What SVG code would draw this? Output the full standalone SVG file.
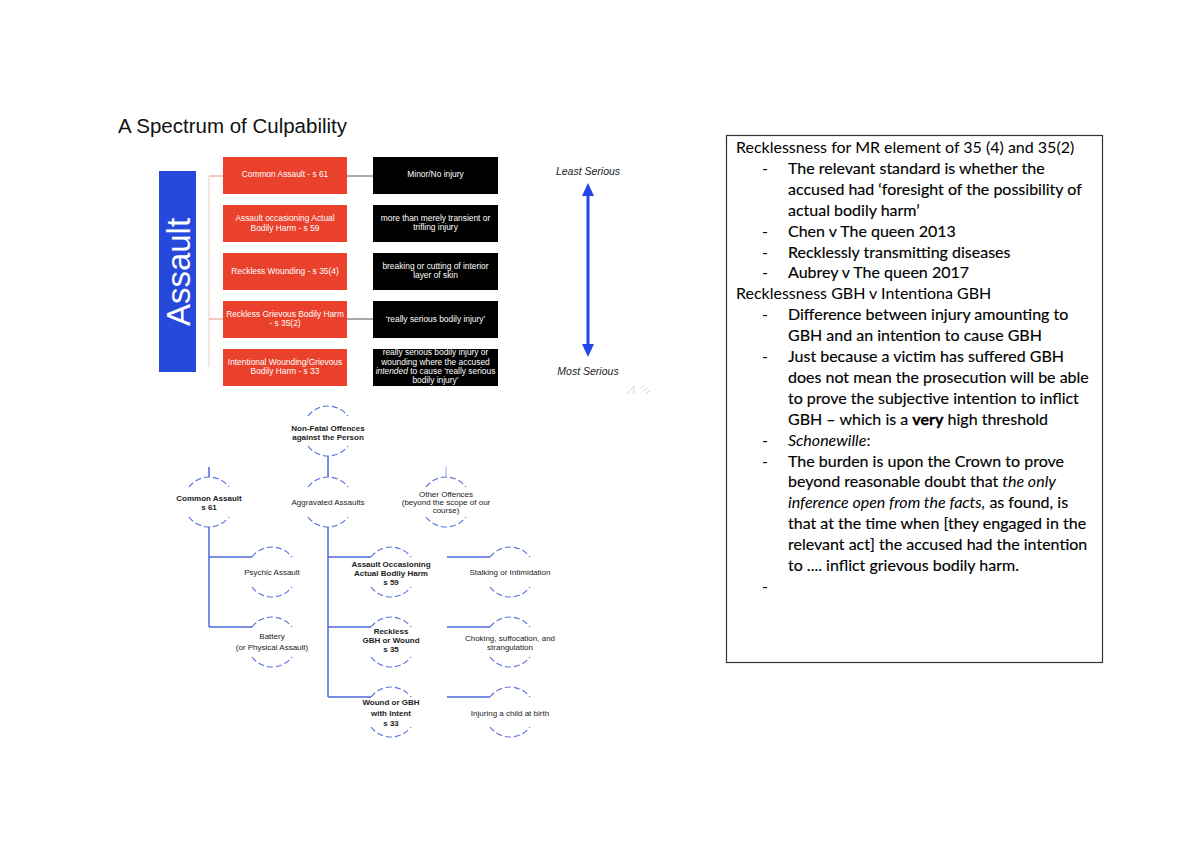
<svg xmlns="http://www.w3.org/2000/svg" width="1200" height="848" viewBox="0 0 1200 848">
<style>
.sans{font-family:"Liberation Sans",Arial,sans-serif}
.red{fill:#e9412b}
.blk{fill:#000}
.wt{fill:#fff;font-family:"Liberation Sans",Arial,sans-serif;font-size:8.4px;text-anchor:middle}
.tl{stroke:#4f68d9;stroke-width:1.5;fill:none}
.arc{stroke:#5a70e0;stroke-width:1.2;fill:none;stroke-dasharray:6 3}
.tt{font-family:"Liberation Sans",Arial,sans-serif;font-size:8px;text-anchor:middle;fill:#222}
.b{font-weight:bold}
.note{font-family:Lato,"Liberation Sans",sans-serif;font-size:16px;fill:#000}
.bl{stroke:#000;stroke-width:0.15}
.it{font-style:italic}
.nb{stroke:none}
.vb{font-weight:bold;stroke:#000;stroke-width:0.3}
</style>
<rect width="1200" height="848" fill="#fff"/>

<text x="118" y="133" class="sans" font-size="20.5" fill="#111">A Spectrum of Culpability</text>

<g id="assault-label">
<rect x="159" y="171" width="37" height="201" fill="#2649db"/>
<text transform="translate(190,272) rotate(-90)" class="sans" font-size="33" fill="#fff" text-anchor="middle">Assault</text>
</g>

<g id="connectors">
<line x1="209" y1="176" x2="209" y2="367" stroke="#f8d2cc" stroke-width="1.2"/>
<line x1="209" y1="176" x2="223" y2="176" stroke="#f2a296" stroke-width="1.2"/>
<line x1="209" y1="319" x2="223" y2="319" stroke="#f2a296" stroke-width="1.2"/>
<line x1="347" y1="176" x2="373" y2="176" stroke="#555" stroke-width="1"/>
<line x1="347" y1="319" x2="373" y2="319" stroke="#555" stroke-width="1"/>
<path class="tl" d="M209 467V477M328 456V477M209 527V627M209 557H252M209 627H252M328 527V697M328 557H371M328 627H371M328 697H371M447 557H490M447 627H490M447 697H490"/>
<line x1="446" y1="467" x2="446" y2="477" stroke="#b9c3ef" stroke-width="1.5"/>
</g>

<g id="spec-row1">
<rect class="red" x="223" y="157" width="124" height="37"/>
<text class="wt" x="285" y="177">Common Assault - s 61</text>
<rect class="blk" x="373" y="157" width="125" height="37"/>
<text class="wt" x="435.5" y="177">Minor/No injury</text>
</g>
<g id="spec-row2">
<rect class="red" x="223" y="205" width="124" height="37"/>
<text class="wt" x="285" y="221">Assault occasioning Actual</text>
<text class="wt" x="285" y="231">Bodily Harm - s 59</text>
<rect class="blk" x="373" y="205" width="125" height="37"/>
<text class="wt" x="435.5" y="221">more than merely transient or</text>
<text class="wt" x="435.5" y="230">trifling injury</text>
</g>
<g id="spec-row3">
<rect class="red" x="223" y="253" width="124" height="37"/>
<text class="wt" x="285" y="274">Reckless Wounding - s 35(4)</text>
<rect class="blk" x="373" y="253" width="125" height="37"/>
<text class="wt" x="435.5" y="269">breaking or cutting of interior</text>
<text class="wt" x="435.5" y="278">layer of skin</text>
</g>
<g id="spec-row4">
<rect class="red" x="223" y="301" width="124" height="37"/>
<text class="wt" x="285" y="317">Reckless Grievous Bodily Harm</text>
<text class="wt" x="285" y="326">- s 35(2)</text>
<rect class="blk" x="373" y="301" width="125" height="37"/>
<text class="wt" x="435.5" y="322">‘really serious bodily injury’</text>
</g>
<g id="spec-row5">
<rect class="red" x="223" y="349" width="124" height="37"/>
<text class="wt" x="285" y="365">Intentional Wounding/Grievous</text>
<text class="wt" x="285" y="374">Bodily Harm - s 33</text>
<rect class="blk" x="373" y="349" width="125" height="37"/>
<text class="wt" x="435.5" y="355">really serious bodily injury or</text>
<text class="wt" x="435.5" y="364.5">wounding where the accused</text>
<text class="wt" x="435.5" y="374"><tspan font-style="italic">intended</tspan> to cause ‘really serious</text>
<text class="wt" x="435.5" y="383">bodily injury’</text>
</g>

<g id="severity-scale">
<text x="588" y="175" class="sans" font-size="10.5" font-style="italic" text-anchor="middle" fill="#222">Least Serious</text>
<line x1="588" y1="193" x2="588" y2="347" stroke="#2347e8" stroke-width="3"/>
<path d="M588 183L582 196H594Z M588 357L582 344H594Z" fill="#2347e8"/>
<text x="588" y="375" class="sans" font-size="10.5" font-style="italic" text-anchor="middle" fill="#222">Most Serious</text>
<path d="M627 394L634 386M634 386V394M641 388L644 386M643 391L648 388M645 394L650 391" stroke="#ccc" stroke-width="0.8" fill="none"/>
</g>

<g id="node-nonfatal">
<path class="arc" d="M308 416A25 25 0 0 1 348 416M308 446A25 25 0 0 0 348 446"/>
<text class="tt b" x="328" y="431">Non-Fatal Offences</text>
<text class="tt b" x="328" y="439.5">against the Person</text>
</g>
<g id="node-common">
<path class="arc" d="M189 487A25 25 0 0 1 229 487M189 517A25 25 0 0 0 229 517"/>
<text class="tt b" x="209" y="501">Common Assault</text>
<text class="tt b" x="209" y="510">s 61</text>
</g>
<g id="node-aggravated">
<path class="arc" d="M308 487A25 25 0 0 1 348 487M308 517A25 25 0 0 0 348 517"/>
<text class="tt" x="328" y="505">Aggravated Assaults</text>
</g>
<g id="node-other">
<path class="arc" d="M426 487A25 25 0 0 1 466 487M426 517A25 25 0 0 0 466 517"/>
<text class="tt" x="446" y="497">Other Offences</text>
<text class="tt" x="446" y="505">(beyond the scope of our</text>
<text class="tt" x="446" y="513">course)</text>
</g>
<g id="node-psychic">
<path class="arc" d="M252 557A25 25 0 0 1 292 557M252 587A25 25 0 0 0 292 587"/>
<text class="tt" x="272" y="575">Psychic Assault</text>
</g>
<g id="node-battery">
<path class="arc" d="M252 627A25 25 0 0 1 292 627M252 657A25 25 0 0 0 292 657"/>
<text class="tt" x="272" y="639">Battery</text>
<text class="tt" x="272" y="650">(or Physical Assault)</text>
</g>
<g id="node-aoabh">
<path class="arc" d="M371 557A25 25 0 0 1 411 557M371 587A25 25 0 0 0 411 587"/>
<text class="tt b" x="391" y="567">Assault Occasioning</text>
<text class="tt b" x="391" y="576">Actual Bodily Harm</text>
<text class="tt b" x="391" y="584.5">s 59</text>
</g>
<g id="node-reckless">
<path class="arc" d="M371 627A25 25 0 0 1 411 627M371 657A25 25 0 0 0 411 657"/>
<text class="tt b" x="391" y="634">Reckless</text>
<text class="tt b" x="391" y="643">GBH or Wound</text>
<text class="tt b" x="391" y="652">s 35</text>
</g>
<g id="node-wound">
<path class="arc" d="M371 697A25 25 0 0 1 411 697M371 727A25 25 0 0 0 411 727"/>
<text class="tt b" x="391" y="705">Wound or GBH</text>
<text class="tt b" x="391" y="715.5">with Intent</text>
<text class="tt b" x="391" y="725.5">s 33</text>
</g>
<g id="node-stalking">
<path class="arc" d="M490 557A25 25 0 0 1 530 557M490 587A25 25 0 0 0 530 587"/>
<text class="tt" x="510" y="575">Stalking or Intimidation</text>
</g>
<g id="node-choking">
<path class="arc" d="M490 627A25 25 0 0 1 530 627M490 657A25 25 0 0 0 530 657"/>
<text class="tt" x="510" y="641">Choking, suffocation, and</text>
<text class="tt" x="510" y="649.5">strangulation</text>
</g>
<g id="node-injuring">
<path class="arc" d="M490 697A25 25 0 0 1 530 697M490 727A25 25 0 0 0 530 727"/>
<text class="tt" x="510" y="716">Injuring a child at birth</text>
</g>

<g id="notes-box">
<rect x="726.5" y="135.5" width="376" height="527" fill="none" stroke="#333" stroke-width="1.2"/>
<g class="note">
<text x="736" y="153">Recklessness for MR element of 35 (4) and 35(2)</text>
<text x="762" y="173.9">-</text><text class="bl" x="788" y="173.9">The relevant standard is whether the</text>
<text class="bl" x="788" y="194.8">accused had ‘foresight of the possibility of</text>
<text class="bl" x="788" y="215.7">actual bodily harm’</text>
<text x="762" y="236.6">-</text><text class="bl" x="788" y="236.6">Chen v The queen 2013</text>
<text x="762" y="257.5">-</text><text class="bl" x="788" y="257.5">Recklessly transmitting diseases</text>
<text x="762" y="278.4">-</text><text class="bl" x="788" y="278.4">Aubrey v The queen 2017</text>
<text x="736" y="299.3">Recklessness GBH v Intentiona GBH</text>
<text x="762" y="320.2">-</text><text class="bl" x="788" y="320.2">Difference between injury amounting to</text>
<text class="bl" x="788" y="341.1">GBH and an intention to cause GBH</text>
<text x="762" y="362">-</text><text class="bl" x="788" y="362">Just because a victim has suffered GBH</text>
<text class="bl" x="788" y="382.9">does not mean the prosecution will be able</text>
<text class="bl" x="788" y="403.8">to prove the subjective intention to inflict</text>
<text class="bl" x="788" y="424.7">GBH – which is a <tspan class="vb">very</tspan> high threshold</text>
<text x="762" y="445.6">-</text><text class="it" x="788" y="445.6">Schonewille<tspan font-style="normal">:</tspan></text>
<text x="762" y="466.5">-</text><text class="bl" x="788" y="466.5">The burden is upon the Crown to prove</text>
<text class="bl" x="788" y="487.4">beyond reasonable doubt that <tspan class="it nb">the only</tspan></text>
<text class="bl" x="788" y="508.3"><tspan class="it nb">inference open from the facts,</tspan> as found, is</text>
<text class="bl" x="788" y="529.2">that at the time when [they engaged in the</text>
<text class="bl" x="788" y="550.1">relevant act] the accused had the intention</text>
<text class="bl" x="788" y="571">to .... inflict grievous bodily harm.</text>
<text x="762" y="591.9">-</text>
</g>
</g>
</svg>
